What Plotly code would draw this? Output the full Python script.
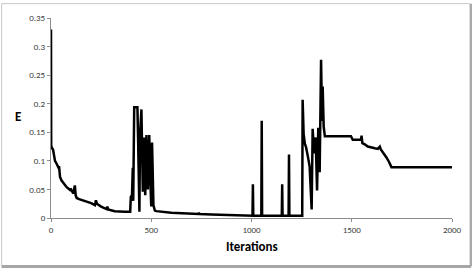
import plotly.graph_objects as go

# Data
iterations = [0, 1, 5, 10, 15, 20, 28, 32, 36, 40, 45, 52, 61, 70, 78, 85, 95, 100, 105, 111, 115, 119,
              123, 128, 140, 169, 200, 219, 224, 229, 250, 277, 281, 285, 318, 368, 395, 398, 404, 408,
              410, 415, 431, 434, 441, 444, 451, 458, 463, 470, 476, 483, 487, 490, 496, 500, 504, 511,
              518, 526, 600, 642, 700, 735, 738, 741, 800, 900, 1000, 1005, 1007, 1009, 1049, 1051, 1053,
              1151, 1153, 1155, 1185, 1187, 1189, 1253, 1255, 1260, 1266, 1272, 1280, 1285, 1290, 1300,
              1305, 1312, 1320, 1327, 1333, 1340, 1347, 1352, 1355, 1360, 1366, 1496, 1505, 1546, 1549,
              1553, 1565, 1580, 1600, 1615, 1630, 1640, 1645, 1656, 1673, 1686, 1698, 2000]
energy = [0.33, 0.127, 0.122, 0.12, 0.11, 0.1, 0.095, 0.09, 0.089, 0.091, 0.072, 0.066, 0.061, 0.057,
          0.054, 0.052, 0.049, 0.05, 0.046, 0.043, 0.05, 0.057, 0.04, 0.035, 0.033, 0.03, 0.026, 0.0225,
          0.031, 0.025, 0.02, 0.0156, 0.02, 0.015, 0.012, 0.011, 0.011, 0.037, 0.04, 0.088, 0.03, 0.194,
          0.194, 0.144, 0.011, 0.145, 0.19, 0.046, 0.141, 0.04, 0.145, 0.05, 0.14, 0.145, 0.06, 0.02,
          0.132, 0.022, 0.013, 0.012, 0.009, 0.008, 0.007, 0.007, 0.009, 0.007, 0.006, 0.005, 0.004,
          0.004, 0.059, 0.004, 0.004, 0.17, 0.004, 0.004, 0.059, 0.004, 0.004, 0.111, 0.004, 0.004,
          0.207, 0.147, 0.13, 0.124, 0.11, 0.095, 0.09, 0.015, 0.156, 0.113, 0.141, 0.048, 0.158, 0.08,
          0.277, 0.17, 0.23, 0.16, 0.143, 0.143, 0.137, 0.137, 0.144, 0.131, 0.129, 0.125, 0.124, 0.122,
          0.121, 0.125, 0.12, 0.115, 0.106, 0.098, 0.089, 0.089]

x_ticks = [0, 500, 1000, 1500, 2000]
x_tick_labels = ["0", "500", "1000", "1500", "2000"]
y_ticks = [0, 0.05, 0.1, 0.15, 0.2, 0.25, 0.3, 0.35]
y_tick_labels = ["0", "0.05", "0.1", "0.15", "0.2", "0.25", "0.3", "0.35"]

FONT = "Carlito, Calibri, Lato, sans-serif"

fig = go.Figure()
fig.add_trace(go.Scatter(x=iterations, y=energy, mode="lines",
                         line=dict(color="black", width=2.5), showlegend=False))

axis_common = dict(showgrid=False, zeroline=False, showline=True, linecolor="#8c8c8c", linewidth=1,
                   ticks="outside", ticklen=3, tickcolor="#8c8c8c", tickwidth=1,
                   tickfont=dict(family=FONT, size=9, color="#404040"))

fig.update_xaxes(range=[0, 2000], tickvals=x_ticks, ticktext=x_tick_labels, **axis_common)
fig.update_yaxes(range=[0, 0.35], tickvals=y_ticks, ticktext=y_tick_labels, **axis_common)

fig.update_layout(
    width=474, height=270,
    margin=dict(l=51, r=21, t=16, b=52),
    paper_bgcolor="white", plot_bgcolor="white",
    annotations=[
        dict(text="<b>E</b>", xref="paper", yref="paper", x=(18 - 51) / 402, y=(218 - 115) / 202,
             xanchor="center", yanchor="middle",
             showarrow=False, font=dict(family=FONT, size=13, color="black")),
        dict(text="<b>Iterations</b>", xref="paper", yref="paper", x=0.5, y=(218 - 247) / 202,
             xanchor="center", yanchor="middle",
             showarrow=False, font=dict(family=FONT, size=13, color="black")),
    ],
    shapes=[
        dict(type="rect", xref="paper", yref="paper",
             x0=(1.5 - 51) / 402, x1=(471 - 51) / 402, y0=(218 - 266) / 202, y1=(218 - 1.5) / 202,
             line=dict(color="#c8c8c8", width=1)),
        dict(type="line", xref="paper", yref="paper",
             x0=(1.5 - 51) / 402, x1=(472 - 51) / 402, y0=(218 - 267) / 202, y1=(218 - 267) / 202,
             line=dict(color="#a6a6a6", width=3)),
        dict(type="line", xref="paper", yref="paper",
             x0=(472 - 51) / 402, x1=(472 - 51) / 402, y0=(218 - 267) / 202, y1=(218 - 1.5) / 202,
             line=dict(color="#a6a6a6", width=2)),
    ],
)

fig.write_html("out.html")
